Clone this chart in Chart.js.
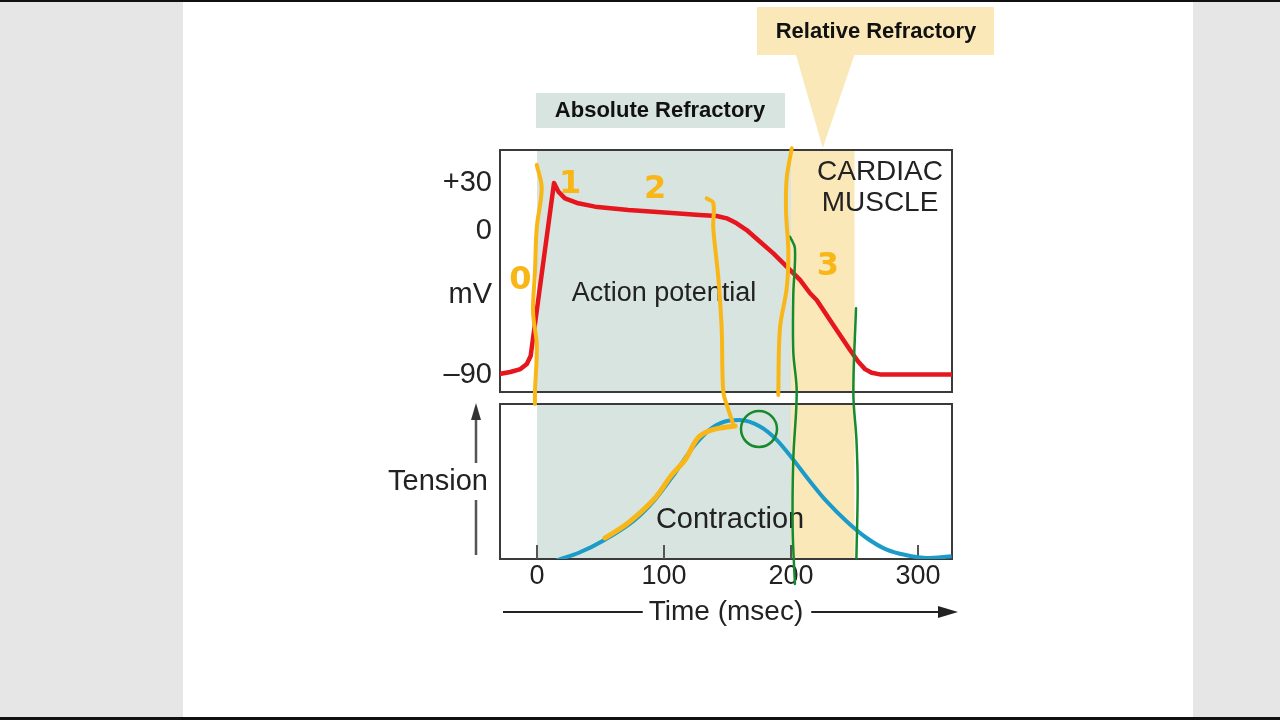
<!DOCTYPE html>
<html>
<head>
<meta charset="utf-8">
<script src="https://cdn.jsdelivr.net/npm/chart.js@4"></script>
<style>
  html, body { margin: 0; padding: 0; }
  body { width: 1280px; height: 720px; background: #e6e6e6; position: relative; overflow: hidden; }
  #page { position: absolute; left: 183px; top: 2px; width: 1010px; height: 715px; background: #fff; }
  #edgeTop { position: absolute; left: 0; top: 0; width: 1280px; height: 2px; background: #111; }
  #edgeBottom { position: absolute; left: 0; top: 717px; width: 1280px; height: 3px; background: #111; }
  canvas { position: absolute; left: 0; top: 0; }
</style>
</head>
<body>
<div id="page"></div>
<div id="edgeTop"></div>
<div id="edgeBottom"></div>
<canvas id="contractionCanvas" width="1280" height="720"></canvas>
<canvas id="potentialCanvas" width="1280" height="720"></canvas>
<script>
// time axis (msec)
const xTickValues = [0, 100, 200, 300];
const timeMin = -29.13;
const timeMax = 326.77;

// refractory periods (msec)
const absoluteRefractory = [0, 200];
const relativeRefractory = [200, 250];

// action potential (mV)
const apTimes = [-30, -21, -13, -8, -5, 13.4, 16.8, 22, 32.5, 45.7, 72, 109, 128, 141.5, 149.4,
  157.2, 165.1, 175.6, 186.1, 196.6, 207.1, 215, 220.2, 233.3, 246.5, 253, 258.3, 263.5, 270, 327];
const apVoltage = [-89.4, -88.1, -86.3, -83.1, -78.1, 30, 24.6, 20.4, 17.3, 15.2, 13.1, 11.1, 10, 9.4, 7.9,
  4.8, 0.6, -6.7, -14, -22.3, -30.5, -38.9, -43.1, -58.8, -74.4, -81.7, -86.3, -88.6, -89.6, -89.6];
const voltageTicks = [30, 0, -40, -90];
const voltageTickLabels = ["+30", "0", "mV", "\u201390"];

// contraction (relative tension)
const tensionTimes = [10, 14.2, 32.5, 53.5, 77.2, 92.9, 108.7, 124.4, 137.6, 150.6, 159.8, 175.6,
  188.7, 201.8, 215, 228.1, 243.9, 259.6, 275.4, 291.1, 306.9, 326.5];
const tensionValues = [-0.04, -0.016, 0.043, 0.139, 0.283, 0.427, 0.619, 0.822, 0.942, 0.995, 1.0, 0.953,
  0.857, 0.714, 0.558, 0.414, 0.27, 0.151, 0.067, 0.027, 0.007, 0.019];

// hand-drawn marks on the action potential panel (msec, mV)
const orangeOneMs = [-0.2, 3.7, -0.2, -1.6, -3.1, -0.2, -1.6, -1.6];
const orangeOneMv = [41.3, 26.9, 1.9, -25.6, -50.6, -71.3, -100.6, -108.1];
const orangeTwoMs = [133.6, 138.8, 138.8, 142.8, 145.4, 146.7, 150.1, 154.2];
const orangeTwoMv = [20.4, 17.5, 1.9, -29.4, -60.6, -100.4, -110.2, -119.9];
const orangeThreeMs = [200.6, 196.6, 196.1, 197.9, 196.6, 191.3, 190, 190];
const orangeThreeMv = [51.7, 32.9, 12.1, -12.9, -35.8, -60.8, -100.4, -102.5];
const greenOneMs = [199.2, 203.1, 201.8, 201.8, 204.5, 201.8, 201.3, 203.1];
const greenOneMv = [-3.6, -10.8, -40, -75.4, -100.4, -142.6, -185.9, -220.5];
const greenTwoMs = [251.2, 249.1, 251.5, 252.5, 251.5];
const greenTwoMv = [-48.3, -101.4, -130, -160, -204.4];
const phaseDigits = ["0", "1", "2", "3"];
const phaseDigitMs = [-13, 26, 93, 229];
const phaseDigitMv = [-31, 29, 26, -22];

// hand-drawn marks on the contraction panel (msec, tension)
const orangeRiseMs = [53.5, 71.7, 93, 106, 116.5, 126.8, 137.8, 156];
const orangeRiseTension = [0.151, 0.259, 0.439, 0.604, 0.712, 0.871, 0.928, 0.957];
const greenCircleMs = [174.8];
const greenCircleTension = [0.935];

const RED = "#e5161d";
const BLUE = "#1b9bc8";
const ABS_FILL = "#d8e4df";
const REL_FILL = "#fbe8b8";
const ORANGE = "#f8b617";
const GREEN = "#168a2c";
const FRAME = "#3a3a3a";
const TEXT = "#222222";
const FONT = '"Liberation Sans", Arial, Helvetica, sans-serif';

Chart.defaults.color = TEXT;
Chart.defaults.font.family = FONT;

function points(xs, ys) {
  return xs.map((x, i) => ({x: x, y: ys[i]}));
}

function stroke(xs, ys, color, width) {
  return {
    data: points(xs, ys),
    borderColor: color,
    borderWidth: width,
    pointRadius: 0,
    tension: 0.35,
    capBezierPoints: false,
    borderCapStyle: "round",
    borderJoinStyle: "round",
    clip: false,
    order: 1,
  };
}

/**
 * Shades the absolute and relative refractory periods
 */
function shadePhases(ctx, area, x) {
  const x0 = x.getPixelForValue(absoluteRefractory[0]);
  const x1 = x.getPixelForValue(absoluteRefractory[1]);
  const x2 = x.getPixelForValue(relativeRefractory[1]);
  ctx.save();
  ctx.fillStyle = ABS_FILL;
  ctx.fillRect(x0, area.top, x1 - x0, area.bottom - area.top);
  ctx.fillStyle = REL_FILL;
  ctx.fillRect(x1, area.top, x2 - x1, area.bottom - area.top);
  ctx.restore();
}

function drawFrame(ctx, area) {
  ctx.save();
  ctx.strokeStyle = FRAME;
  ctx.lineWidth = 2;
  ctx.strokeRect(area.left, area.top, area.right - area.left, area.bottom - area.top);
  ctx.restore();
}

function centerText(ctx, text, font, x, y, color) {
  ctx.save();
  ctx.font = font;
  ctx.fillStyle = color || TEXT;
  ctx.textAlign = "center";
  ctx.textBaseline = "middle";
  ctx.fillText(text, x, y);
  ctx.restore();
}

const potentialDecor = {
  id: "potentialDecor",
  beforeDatasetsDraw(chart) {
    const {ctx, chartArea: a, scales: {x}} = chart;
    shadePhases(ctx, a, x);
    drawFrame(ctx, a);
    centerText(ctx, "Action potential", `27px ${FONT}`, x.getPixelForValue(100), a.top + 144);
    centerText(ctx, "CARDIAC", `28px ${FONT}`, a.right - 72, a.top + 22);
    centerText(ctx, "MUSCLE", `28px ${FONT}`, a.right - 72, a.top + 53);
  },
  afterDatasetsDraw(chart) {
    const {ctx, scales: {x, y}} = chart;
    ctx.save();
    ctx.fillStyle = ORANGE;
    ctx.font = 'bold 32px "DejaVu Sans", sans-serif';
    ctx.textAlign = "center";
    ctx.textBaseline = "middle";
    phaseDigits.forEach((d, i) => {
      ctx.fillText(d, x.getPixelForValue(phaseDigitMs[i]), y.getPixelForValue(phaseDigitMv[i]));
    });
    ctx.restore();
  },
  afterDraw(chart) {
    const {ctx, chartArea: a, scales: {x}} = chart;
    ctx.save();
    // absolute refractory label
    const absLeft = x.getPixelForValue(absoluteRefractory[0]) - 1;
    ctx.fillStyle = ABS_FILL;
    ctx.fillRect(absLeft, a.top - 57, 249, 35);
    // relative refractory label with pointer
    const tipX = x.getPixelForValue((relativeRefractory[0] + relativeRefractory[1]) / 2);
    ctx.fillStyle = REL_FILL;
    ctx.fillRect(757, a.top - 143, 237, 48);
    ctx.beginPath();
    ctx.moveTo(tipX - 27, a.top - 96);
    ctx.lineTo(tipX + 32, a.top - 96);
    ctx.lineTo(tipX, a.top - 2);
    ctx.closePath();
    ctx.fill();
    ctx.restore();
    centerText(ctx, "Absolute Refractory", `bold 22px ${FONT}`, absLeft + 124, a.top - 39, "#111");
    centerText(ctx, "Relative Refractory", `bold 22px ${FONT}`, 876, a.top - 118, "#111");
  },
};

const contractionDecor = {
  id: "contractionDecor",
  beforeDatasetsDraw(chart) {
    const {ctx, chartArea: a, scales: {x}} = chart;
    shadePhases(ctx, a, x);
    drawFrame(ctx, a);
    ctx.save();
    ctx.strokeStyle = "#555";
    ctx.lineWidth = 2;
    x.ticks.forEach(t => {
      const px = x.getPixelForValue(t.value);
      ctx.beginPath();
      ctx.moveTo(px, a.bottom);
      ctx.lineTo(px, a.bottom - 14);
      ctx.stroke();
    });
    ctx.restore();
    centerText(ctx, "Contraction", `29px ${FONT}`, x.getPixelForValue(152), a.top + 116);
  },
  afterDraw(chart) {
    const {ctx, chartArea: a} = chart;
    // Tension label with arrow
    centerText(ctx, "Tension", `29px ${FONT}`, a.left - 62, a.top + 78);
    ctx.save();
    ctx.strokeStyle = "#555";
    ctx.fillStyle = "#333";
    ctx.lineWidth = 2.5;
    const ax = a.left - 24;
    ctx.beginPath();
    ctx.moveTo(ax, a.top + 59);
    ctx.lineTo(ax, a.top + 14);
    ctx.moveTo(ax, a.top + 96);
    ctx.lineTo(ax, a.bottom - 4);
    ctx.stroke();
    ctx.beginPath();
    ctx.moveTo(ax, a.top - 1);
    ctx.lineTo(ax - 5, a.top + 16);
    ctx.lineTo(ax + 5, a.top + 16);
    ctx.closePath();
    ctx.fill();

    // Time axis arrows either side of the title
    ctx.font = `28px ${FONT}`;
    const w = ctx.measureText("Time (msec)").width;
    const cx = (a.left + a.right) / 2;
    const ty = 612;
    ctx.strokeStyle = "#222";
    ctx.fillStyle = "#222";
    ctx.lineWidth = 2;
    ctx.beginPath();
    ctx.moveTo(a.left + 3, ty);
    ctx.lineTo(cx - w / 2 - 6, ty);
    ctx.moveTo(cx + w / 2 + 8, ty);
    ctx.lineTo(a.right - 8, ty);
    ctx.stroke();
    ctx.beginPath();
    ctx.moveTo(a.right + 6, ty);
    ctx.lineTo(a.right - 14, ty - 6);
    ctx.lineTo(a.right - 14, ty + 6);
    ctx.closePath();
    ctx.fill();
    ctx.restore();
  },
};

new Chart(document.getElementById("contractionCanvas"), {
  type: "line",
  data: {
    datasets: [
      {
        data: points(tensionTimes, tensionValues),
        borderColor: BLUE,
        borderWidth: 4,
        pointRadius: 0,
        cubicInterpolationMode: "monotone",
        order: 2,
      },
      stroke(orangeRiseMs, orangeRiseTension, ORANGE, 5),
      {
        data: points(greenCircleMs, greenCircleTension),
        showLine: false,
        pointRadius: 18,
        pointBorderColor: GREEN,
        pointBackgroundColor: "rgba(0,0,0,0)",
        pointBorderWidth: 2.5,
        clip: false,
        order: 1,
      },
    ],
  },
  options: {
    responsive: false,
    animation: false,
    events: [],
    layout: {padding: {left: 500, right: 328, top: 404, bottom: 0}},
    plugins: {legend: {display: false}, tooltip: {enabled: false}},
    scales: {
      x: {
        type: "linear",
        min: timeMin,
        max: timeMax,
        afterFit(scale) { scale.height = 161; },
        afterBuildTicks(scale) { scale.ticks = xTickValues.map(v => ({value: v})); },
        ticks: {font: {size: 27}, padding: 1, maxRotation: 0, autoSkip: false, color: TEXT},
        grid: {display: false, drawTicks: false},
        border: {display: false},
        title: {display: true, text: "Time (msec)", font: {size: 28}, color: TEXT, padding: {top: 0, bottom: 91}},
      },
      y: {display: false, min: 0, max: 1.115},
    },
  },
  plugins: [contractionDecor],
});

new Chart(document.getElementById("potentialCanvas"), {
  type: "line",
  data: {
    datasets: [
      {
        data: points(apTimes, apVoltage),
        borderColor: RED,
        borderWidth: 4.5,
        pointRadius: 0,
        tension: 0,
        borderJoinStyle: "round",
        order: 2,
      },
      stroke(orangeOneMs, orangeOneMv, ORANGE, 4),
      stroke(orangeTwoMs, orangeTwoMv, ORANGE, 4),
      stroke(orangeThreeMs, orangeThreeMv, ORANGE, 4),
      stroke(greenOneMs, greenOneMv, GREEN, 2.5),
      stroke(greenTwoMs, greenTwoMv, GREEN, 2.5),
    ],
  },
  options: {
    responsive: false,
    animation: false,
    events: [],
    layout: {padding: {left: 440, right: 328, top: 150, bottom: 328}},
    plugins: {legend: {display: false}, tooltip: {enabled: false}},
    scales: {
      x: {type: "linear", display: false, min: timeMin, max: timeMax},
      y: {
        min: -100.6,
        max: 50.6,
        afterFit(scale) { scale.width = 60; },
        afterBuildTicks(scale) { scale.ticks = voltageTicks.map(v => ({value: v})); },
        ticks: {
          font: {size: 29},
          padding: 8,
          color: TEXT,
          callback: (value, i) => voltageTickLabels[i],
        },
        grid: {display: false, drawTicks: false},
        border: {display: false},
      },
    },
  },
  plugins: [potentialDecor],
});
</script>
</body>
</html>
